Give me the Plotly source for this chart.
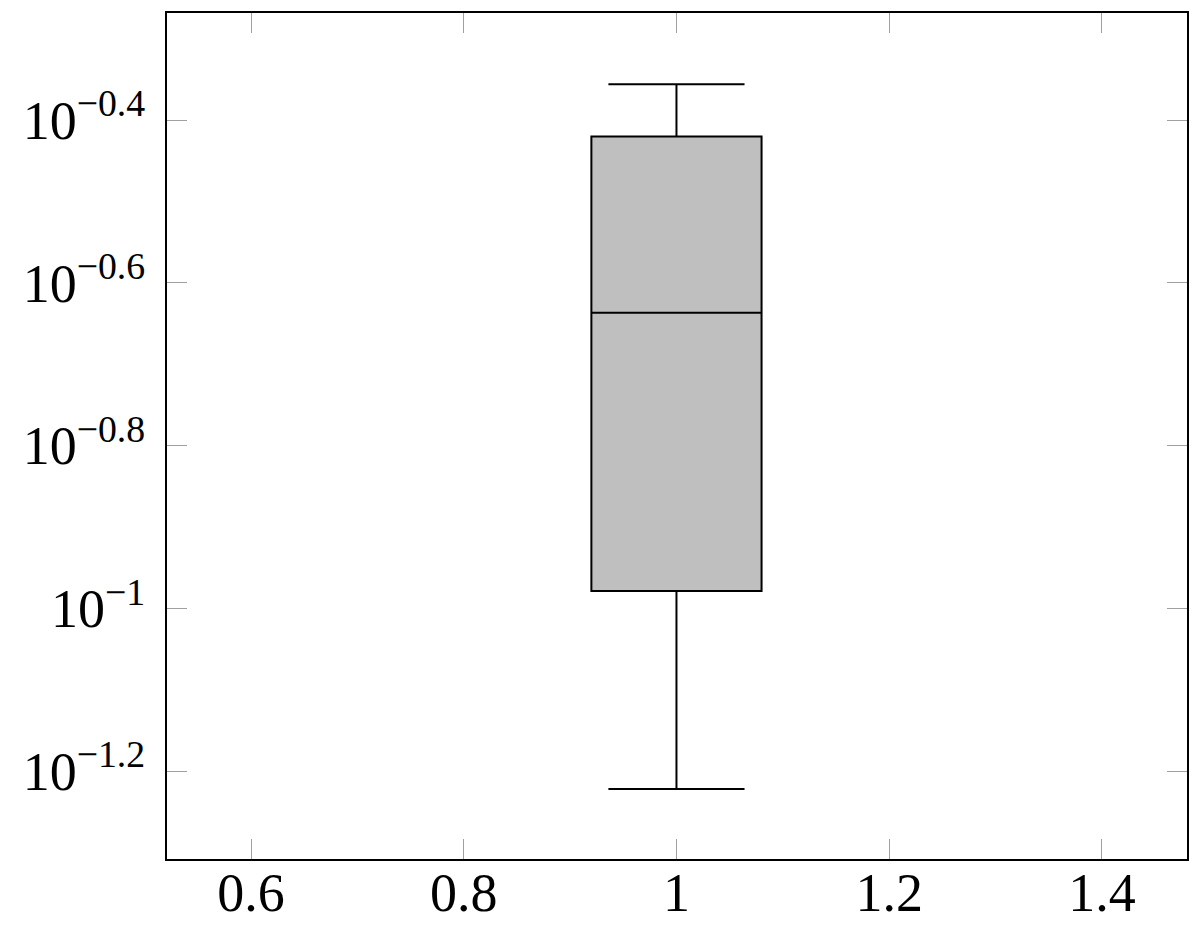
import plotly.graph_objects as go

# Box statistics
positions = [1.0]
lower_whisker = [0.060]
lower_quartile = [0.105]
median = [0.2307]
upper_quartile = [0.380]
upper_whisker = [0.4406]

x_tickvals = [0.6, 0.8, 1.0, 1.2, 1.4]
x_ticktext = ["0.6", "0.8", "1", "1.2", "1.4"]
y_exponents = [-0.4, -0.6, -0.8, -1, -1.2]
y_ticktext = ["10<sup>\u22120.4</sup>", "10<sup>\u22120.6</sup>", "10<sup>\u22120.8</sup>",
              "10<sup>\u22121</sup>", "10<sup>\u22121.2</sup>"]
y_tickvals = [10 ** e for e in y_exponents]

fig = go.Figure()
fig.add_trace(go.Box(
    x=positions,
    q1=lower_quartile, median=median, q3=upper_quartile,
    lowerfence=lower_whisker, upperfence=upper_whisker,
    width=0.16, whiskerwidth=0.8,
    fillcolor="#bfbfbf",
    line=dict(color="black", width=2),
    boxpoints=False,
    showlegend=False,
))

font_family = "Liberation Serif, DejaVu Serif, serif"
fig.update_layout(
    width=1192, height=917,
    margin=dict(l=159, r=13, t=5, b=66),
    plot_bgcolor="white", paper_bgcolor="white",
    font=dict(family=font_family, size=54, color="black"),
    xaxis=dict(
        range=[0.521, 1.48],
        tickvals=x_tickvals, ticktext=x_ticktext,
        ticks="inside", ticklen=20, tickwidth=1, tickcolor="#a0a0a0",
        showline=True, linecolor="black", linewidth=2, mirror="ticks",
        showgrid=False, zeroline=False,
        ticklabelstandoff=-15, automargin=False,
    ),
    yaxis=dict(
        type="log",
        range=[-1.308, -0.2685],
        tickvals=y_tickvals, ticktext=y_ticktext,
        ticks="inside", ticklen=20, tickwidth=1, tickcolor="#a0a0a0",
        showline=True, linecolor="black", linewidth=2, mirror="ticks",
        showgrid=False, zeroline=False,
        ticklabelstandoff=9, automargin=False,
    ),
)

fig.write_html("out.html")
